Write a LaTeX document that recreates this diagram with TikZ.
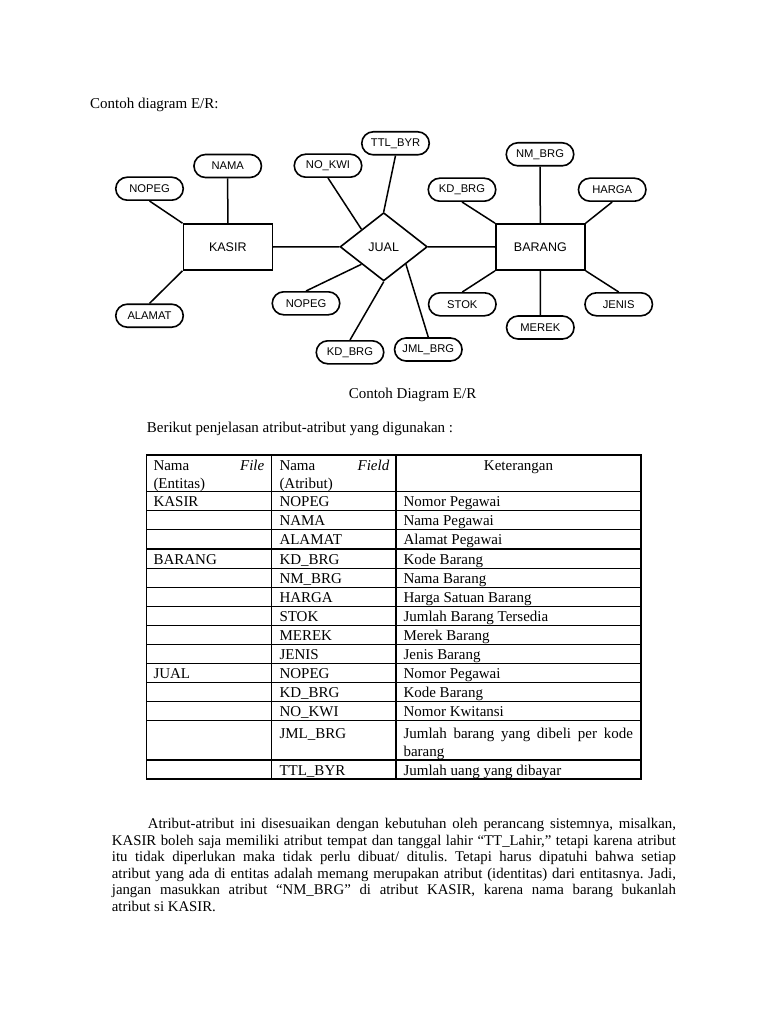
\documentclass[tikz,border=0pt]{standalone}
\usepackage{fontspec}
\usepackage{graphicx}
\setmainfont{Liberation Serif}
\newfontfamily\ersans{Liberation Sans}
\usetikzlibrary{shapes.geometric}
\newcommand\jline[2]{\setbox0\hbox{#2}\ifdim\wd0>#1\relax\resizebox{#1}{\height}{#2}\else\makebox[#1][s]{#2}\fi}
\frenchspacing
\begin{document}
\frenchspacing
\begin{tikzpicture}[x=1pt,y=-1pt,
  attr/.style={draw, rectangle, rounded corners=11.5pt, minimum width=67.5pt, minimum height=23pt, inner sep=0pt, line width=1.6pt, font=\ersans\fontsize{11.2}{13}\selectfont},
  ent/.style={draw, rectangle, minimum width=89pt, minimum height=46pt, inner sep=0pt, line width=1.6pt, font=\ersans\fontsize{12.5}{14}\selectfont},
  rel/.style={draw, diamond, minimum width=87.3pt, minimum height=68.3pt, inner sep=0pt, line width=1.6pt, font=\ersans\fontsize{12.5}{14}\selectfont},
  link/.style={line width=1.5pt},
  body/.style={font=\fontsize{15}{17}\selectfont, inner sep=0pt, anchor=base west},
  cell/.style={font=\fontsize{15}{17}\selectfont, inner sep=0pt, anchor=base west},
  para/.style={font=\frenchspacing\fontsize{14.8}{16}\selectfont, inner sep=0pt, anchor=base west},
  tbl/.style={line width=1.1pt}]
\useasboundingbox[fill=white] (0,0) rectangle (768,1024);

% title
\node[body] (title) at (90,108.3) {Contoh diagram E/R:};

% entities and relationship
\node[ent] (kasir) at (227.8,247) {KASIR};
\node[rel] (jual) at (383.7,246.8) {JUAL};
\node[ent] (barang) at (540.35,247) {BARANG};

% attributes
\node[attr] (knopeg) at (149.5,188.7) {NOPEG};
\node[attr] (knama) at (227.7,166) {NAMA};
\node[attr] (kalamat) at (149.5,315.7) {ALAMAT};
\node[attr] (jnokwi) at (328,165.7) {NO\_KWI};
\node[attr] (jttl) at (395.5,143.3) {TTL\_BYR};
\node[attr] (jnopeg) at (306,303.3) {NOPEG};
\node[attr] (jkd) at (350,352.3) {KD\_BRG};
\node[attr] (jjml) at (428.3,349.5) {JML\_BRG};
\node[attr] (bnm) at (540,154.3) {NM\_BRG};
\node[attr] (bkd) at (462,189.7) {KD\_BRG};
\node[attr] (bharga) at (612.2,189.7) {HARGA};
\node[attr] (bstok) at (462.3,304.3) {STOK};
\node[attr] (bmerek) at (540.3,327.5) {MEREK};
\node[attr] (bjenis) at (618.7,304.3) {JENIS};

% connectors
\draw[link] (knopeg.south) -- (kasir.north west);
\draw[link] (knama.south) -- (kasir.north);
\draw[link] (kalamat.north) -- (kasir.south west);
\draw[link] (kasir.east) -- (jual.west);
\draw[link] (jnokwi.south) -- (jual.north west);
\draw[link] (jttl.south) -- (jual.north);
\draw[link] (jnopeg.north) -- (jual.south west);
\draw[link] (jkd.north) -- (jual.south);
\draw[link] (jjml.north) -- (jual.south east);
\draw[link] (jual.east) -- (barang.west);
\draw[link] (bkd.south) -- (barang.north west);
\draw[link] (bnm.south) -- (barang.north);
\draw[link] (bharga.south) -- (barang.north east);
\draw[link] (bstok.north) -- (barang.south west);
\draw[link] (bmerek.north) -- (barang.south);
\draw[link] (bjenis.north) -- (barang.south east);

% caption and intro
\node[body, anchor=base] (caption) at (412.5,398) {Contoh Diagram E/R};
\node[body] (intro) at (146.7,432) {Berikut penjelasan atribut-atribut yang digunakan :};

% table grid
\draw[tbl] (146.7,455) rectangle (641,779);
\draw[tbl] (271.7,455) -- (271.7,779);
\draw[tbl] (396,455) -- (396,779);
\foreach \i in {0,...,12} {\draw[tbl] (146.7,{491.7+19.1*\i}) -- (641,{491.7+19.1*\i});}
\draw[tbl] (146.7,760) -- (641,760);

% table header
\node[cell] (h1a) at (153.3,470) {Nama};
\node[cell, anchor=base east] (h1b) at (264.5,470) {\textit{File}};
\node[cell] (h1c) at (153.3,488) {(Entitas)};
\node[cell] (h2a) at (279.3,470) {Nama};
\node[cell, anchor=base east] (h2b) at (389.5,470) {\textit{Field}};
\node[cell] (h2c) at (279.3,488) {(Atribut)};
\node[cell, anchor=base] (h3) at (518.5,470) {Keterangan};

% table body
\node[cell] (e0) at (153.3,506.7) {KASIR};
\node[cell] (e3) at (153.3,564) {BARANG};
\node[cell] (e9) at (153.3,678.6) {JUAL};
\foreach \i/\f/\d in {0/NOPEG/Nomor Pegawai,1/NAMA/Nama Pegawai,2/ALAMAT/Alamat Pegawai,3/KD\_BRG/Kode Barang,4/NM\_BRG/Nama Barang,5/HARGA/Harga Satuan Barang,6/STOK/Jumlah Barang Tersedia,7/MEREK/Merek Barang,8/JENIS/Jenis Barang,9/NOPEG/Nomor Pegawai,10/KD\_BRG/Kode Barang,11/NO\_KWI/Nomor Kwitansi} {
  \node[cell] (f\i) at (279.3,{506.7+19.1*\i}) {\f};
  \node[cell] (d\i) at (403.3,{506.7+19.1*\i}) {\d};
}
\node[cell] (f12) at (279.3,738.3) {JML\_BRG};
\node[cell] (d12) at (403.3,738.3) {\makebox[229.4pt][s]{Jumlah barang yang dibeli per kode}};
\node[cell] (d12b) at (403.3,756.7) {barang};
\node[cell] (f13) at (279.3,775) {TTL\_BYR};
\node[cell] (d13) at (403.3,775) {Jumlah uang yang dibayar};

% paragraph
\node[para] (p1) at (147.7,828.5) {\jline{528pt}{Atribut-atribut ini disesuaikan dengan kebutuhan oleh perancang sistemnya, misalkan,}};
\node[para] (p2) at (111.7,845) {\jline{564pt}{KASIR boleh saja memiliki atribut tempat dan tanggal lahir “TT\_Lahir,” tetapi karena atribut}};
\node[para] (p3) at (111.7,861.5) {\jline{564pt}{itu tidak diperlukan maka tidak perlu dibuat/ ditulis. Tetapi harus dipatuhi bahwa setiap}};
\node[para] (p4) at (111.7,878) {\jline{564pt}{atribut yang ada di entitas adalah memang merupakan atribut (identitas) dari entitasnya. Jadi,}};
\node[para] (p5) at (111.7,894.5) {\jline{564pt}{jangan masukkan atribut “NM\_BRG” di atribut KASIR, karena nama barang bukanlah}};
\node[para] (p6) at (111.7,911) {atribut si KASIR.};
\end{tikzpicture}
\end{document}
